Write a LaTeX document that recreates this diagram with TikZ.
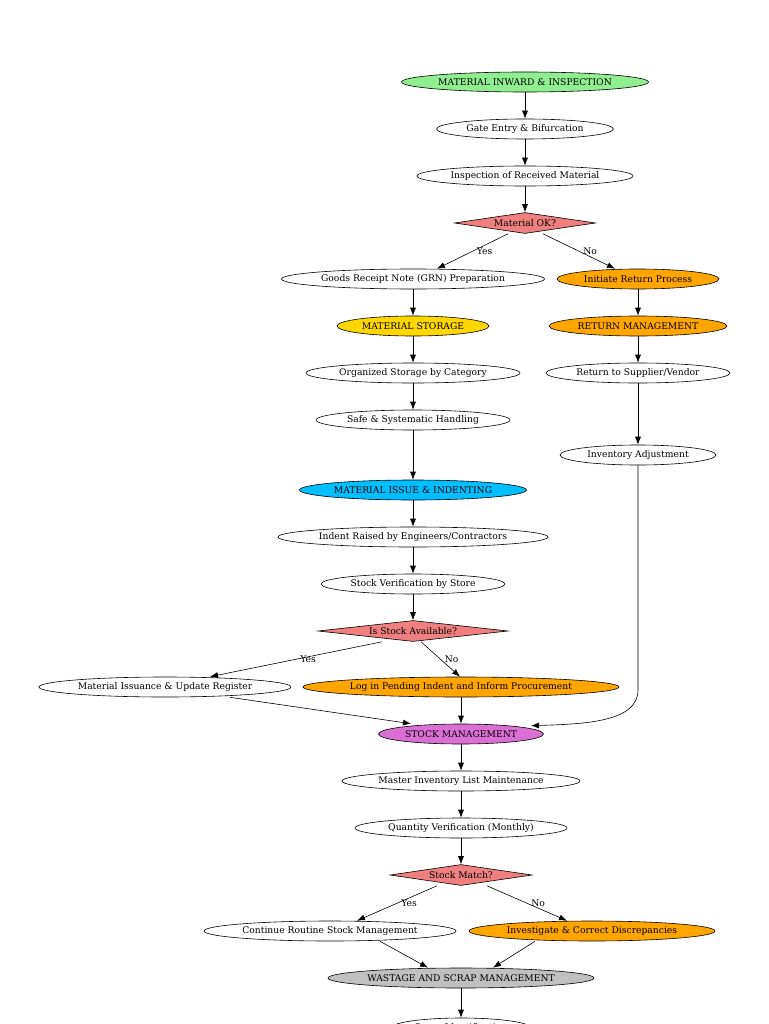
\documentclass[tikz,border=0pt]{standalone}
\usepackage{fontspec}
\setmainfont{DejaVu Serif}
\usetikzlibrary{shapes.geometric,arrows.meta}
\definecolor{cgreen}{HTML}{90EE90}
\definecolor{ccoral}{HTML}{F08080}
\definecolor{corange}{HTML}{FFA500}
\definecolor{cgold}{HTML}{FFD700}
\definecolor{csky}{HTML}{00BFFF}
\definecolor{corchid}{HTML}{DA70D6}
\definecolor{cgray}{HTML}{C0C0C0}
\tikzset{
  el/.style={ellipse,draw,line width=0.6pt,inner sep=0pt,minimum height=20pt,font=\fontsize{9.2}{11}\selectfont},
  dm/.style={diamond,draw,line width=0.6pt,inner sep=0pt,aspect=7,minimum height=21pt,fill=ccoral,font=\fontsize{9.2}{11}\selectfont},
  ar/.style={-{Latex[length=8pt,width=6pt]},line width=0.6pt},
  lb/.style={font=\fontsize{9.2}{11}\selectfont,anchor=west,inner sep=1pt,xshift=3pt}
}
\begin{document}
\begin{tikzpicture}[x=1pt,y=-1pt]
\useasboundingbox (0,0) rectangle (768,1024);
\fill[white] (0,0) rectangle (768,1024);
\node[el,fill=cgreen,minimum width=247] (A) at (525,82) {MATERIAL INWARD \& INSPECTION};
\node[el,minimum width=177] (B) at (525,129) {Gate Entry \& Bifurcation};
\node[el,minimum width=216] (C) at (525,176) {Inspection of Received Material};
\node[dm,minimum width=141] (D) at (525,223) {Material OK?};
\node[el,minimum width=263] (E) at (413,279) {Goods Receipt Note (GRN) Preparation};
\node[el,fill=corange,minimum width=162] (F) at (638,279) {Initiate Return Process};
\node[el,fill=cgold,minimum width=152] (G) at (413,326) {MATERIAL STORAGE};
\node[el,fill=corange,minimum width=178] (H) at (638,326) {RETURN MANAGEMENT};
\node[el,minimum width=214] (I) at (413,373) {Organized Storage by Category};
\node[el,minimum width=184] (J) at (638,373) {Return to Supplier/Vendor};
\node[el,minimum width=194] (K) at (413,420) {Safe \& Systematic Handling};
\node[el,minimum width=156] (L) at (638,455) {Inventory Adjustment};
\node[el,fill=csky,minimum width=227] (M) at (413,490) {MATERIAL ISSUE \& INDENTING};
\node[el,minimum width=270] (N) at (413,537) {Indent Raised by Engineers/Contractors};
\node[el,minimum width=184] (O) at (413,584) {Stock Verification by Store};
\node[dm,minimum width=190] (P) at (413,631) {Is Stock Available?};
\node[el,minimum width=252] (Q) at (165,687) {Material Issuance \& Update Register};
\node[el,fill=corange,minimum width=316] (R) at (461,687) {Log in Pending Indent and Inform Procurement};
\node[el,fill=corchid,minimum width=165] (S) at (461,734) {STOCK MANAGEMENT};
\node[el,minimum width=238] (T) at (461,781) {Master Inventory List Maintenance};
\node[el,minimum width=212] (U) at (461,828) {Quantity Verification (Monthly)};
\node[dm,minimum width=142] (V) at (461,875) {Stock Match?};
\node[el,minimum width=252] (W) at (330,931) {Continue Routine Stock Management};
\node[el,fill=corange,minimum width=246] (X) at (592,931) {Investigate \& Correct Discrepancies};
\node[el,fill=cgray,minimum width=266] (Y) at (461,978) {WASTAGE AND SCRAP MANAGEMENT};
\node[el,minimum width=140] (Z) at (461,1028) {Scrap Identification};
\draw[ar] (A) -- (B);
\draw[ar] (B) -- (C);
\draw[ar] (C) -- (D);
\draw[ar] ([xshift=-17pt]D.south) -- ([xshift=24pt]E.north) node[lb,pos=0.5]{Yes};
\draw[ar] ([xshift=18pt]D.south) -- ([xshift=-23pt]F.north) node[lb,pos=0.5]{No};
\draw[ar] (E) -- (G);
\draw[ar] (F) -- (H);
\draw[ar] (G) -- (I);
\draw[ar] (H) -- (J);
\draw[ar] (I) -- (K);
\draw[ar] (J) -- (L);
\draw[ar] (K) -- (M);
\draw[ar] (M) -- (N);
\draw[ar] (N) -- (O);
\draw[ar] (O) -- (P);
\draw[ar] ([xshift=-31pt]P.south) -- ([xshift=45pt]Q.north) node[lb,pos=0.5]{Yes};
\draw[ar] ([xshift=8pt]P.south) -- ([xshift=-1pt]R.north) node[lb,pos=0.5]{No};
\draw[ar] ([xshift=65pt]Q.south) -- ([xshift=-50pt]S.north);
\draw[ar] (R) -- (S);
\draw[ar] (L) -- (638,690) .. controls (638,722) and (585,724) .. ([xshift=70pt,yshift=-2pt]S.north);
\draw[ar] (S) -- (T);
\draw[ar] (T) -- (U);
\draw[ar] (U) -- (V);
\draw[ar] ([xshift=-24pt]V.south) -- ([xshift=27pt]W.north) node[lb,pos=0.5]{Yes};
\draw[ar] ([xshift=26pt]V.south) -- ([xshift=-25pt]X.north) node[lb,pos=0.5]{No};
\draw[ar] ([xshift=50pt]W.south) -- ([xshift=-33pt]Y.north);
\draw[ar] ([xshift=-57pt]X.south) -- ([xshift=32pt]Y.north);
\draw[ar] (Y) -- (Z);
\end{tikzpicture}
\end{document}
